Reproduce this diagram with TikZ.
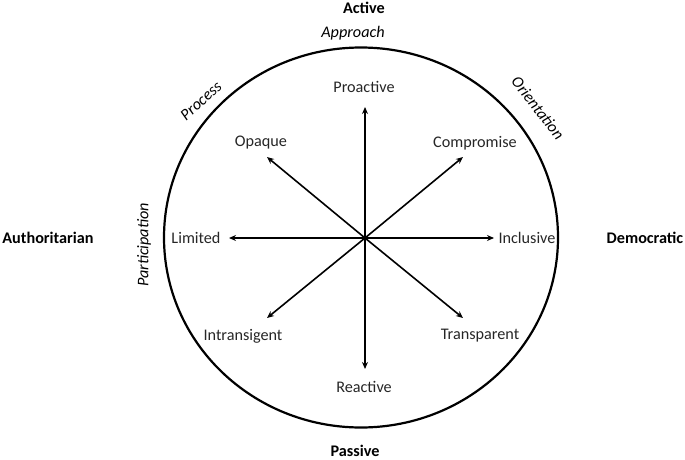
\documentclass[tikz,border=0pt]{standalone}
\usepackage{fontspec}
\setmainfont{Carlito}
\usetikzlibrary{arrows.meta}
\begin{document}
\begin{tikzpicture}[x=1pt,y=-1pt,
  lbl/.style={font=\fontsize{16.2}{18}\selectfont, text=black!85, inner sep=0.5pt},
  pole/.style={font=\fontsize{16.2}{18}\selectfont\bfseries, inner sep=0.5pt},
  dim/.style={font=\fontsize{16.2}{18}\selectfont\itshape, inner sep=0.5pt},
  axis/.style={line width=1.6pt, -{Stealth[length=7pt,width=6pt]}}]
\useasboundingbox (0,0) rectangle (685,460);
\draw[line width=2.2pt] (361,237.5) ellipse [x radius=197, y radius=190];
\coordinate (c) at (365,238);
% value labels
\node[lbl] (pro) at (364,87) {Proactive};
\node[lbl] (rea) at (364,387) {Reactive};
\node[lbl] (lim) at (196,238) {Limited};
\node[lbl] (inc) at (527,238) {Inclusive};
\node[lbl] (opa) at (261,143) {Opaque};
\node[lbl] (com) at (475,143) {Compromise};
\node[lbl] (int) at (243,336) {Intransigent};
\node[lbl] (tra) at (480,336) {Transparent};
% arrow tips
\coordinate (tpro) at (365,107);
\coordinate (trea) at (365,369);
\coordinate (tlim) at (229,238);
\coordinate (tinc) at (494,238);
\coordinate (topa) at (267,157);
\coordinate (tcom) at (463,157);
\coordinate (tint) at (267,318);
\coordinate (ttra) at (463,318);
\foreach \t in {tpro,trea,tlim,tinc,topa,tcom,tint,ttra}
  \draw[axis] (c) -- (\t);
% poles
\node[pole] (act) at (364,8) {Active};
\node[pole] (pas) at (355,451) {Passive};
\node[pole] (aut) at (48,238) {Authoritarian};
\node[pole] (dem) at (645,238) {Democratic};
% dimensions
\node[dim] (app) at (353,33) {Approach};
\node[dim, rotate=42] (prc) at (201,101) {Process};
\node[dim, rotate=-52] (ori) at (538,108) {Orientation};
\node[dim, rotate=90] (par) at (144,245) {Participation};
\end{tikzpicture}
\end{document}
